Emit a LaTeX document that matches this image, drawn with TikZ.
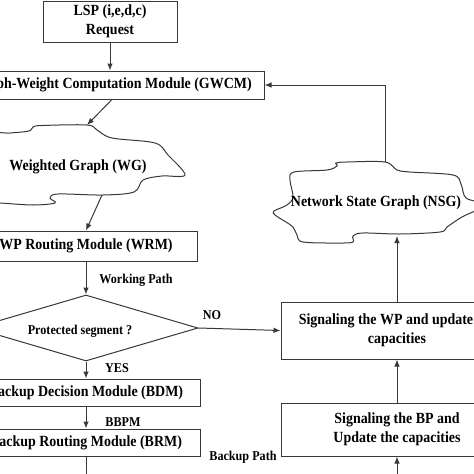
\documentclass[tikz,border=0pt]{standalone}
\usepackage{fontspec}
\setmainfont[FakeStretch=0.9]{Liberation Serif}
\usetikzlibrary{arrows.meta,shapes.geometric}
\definecolor{ln}{gray}{0.22}
\begin{document}
\begin{tikzpicture}[x=1pt,y=-1pt,
  box/.style={draw=ln, line width=1pt, fill=white, align=center, inner sep=0pt,
    font=\bfseries\fontsize{15.5}{18.5}\selectfont},
  lbl/.style={inner sep=0pt, font=\bfseries\fontsize{13.5}{16}\selectfont},
  cloudtxt/.style={inner sep=0pt, font=\bfseries\fontsize{15.5}{18.5}\selectfont},
  arr/.style={draw=ln, line width=1pt, -{Latex[length=7pt,width=5.5pt]}},
  plain/.style={draw=ln, line width=1pt},
  cloudline/.style={draw=ln, line width=1pt, fill=white}]
\useasboundingbox (0,0) rectangle (474,474);
\clip (0,0) rectangle (474,474);

% boxes
\node[box, minimum width=134pt, minimum height=41pt] (lsp) at (110,21.5) {LSP (i,e,d,c)\\Request};
\node[box, minimum width=304pt, minimum height=28pt] (gwcm) at (112,85) {Graph-Weight Computation Module (GWCM)};
\node[box, minimum width=222pt, minimum height=30pt] (wrm) at (86,246) {WP Routing Module (WRM)};
\node[draw=ln, line width=1pt, diamond, minimum width=224pt, minimum height=66pt, inner sep=0pt] (dia) at (86,328) {};
\node[lbl] (dtext) at (80,331) {Protected segment ?};
\node[box, minimum width=228pt, minimum height=27pt] (bdm) at (86,392.5) {Backup Decision Module (BDM)};
\node[box, minimum width=228pt, minimum height=27pt] (brm) at (86,442.5) {Backup Routing Module (BRM)};
\node[box, minimum width=232pt, minimum height=57pt] (wp) at (397,330.5) {Signaling the WP and update\phantom{ the}\\capacities};
\node[box, minimum width=232pt, minimum height=53pt] (bp) at (397,429.5) {Signaling the BP and\\Update the capacities};

% clouds
\draw[cloudline] plot[smooth cycle, tension=0.55] coordinates {
  (-40,168) (-20,135) (10,133) (29,131) (33,127) (42,125.5) (87,125) (97,130)
  (112,138) (155,143) (168,155) (185,175) (162,176) (143,180) (134,192)
  (103,195) (58,194) (50,198) (55,203) (33,205) (0,203) (-20,202)};
\node[cloudtxt] (wg) at (78,167) {Weighted Graph (WG)};

\draw[cloudline] plot[smooth cycle, tension=0.55] coordinates {
  (290,180) (294,172) (327,170) (337,166) (336,163) (347,162) (385,162)
  (397,170) (410,172) (453,175) (461,184) (466,198) (485,205) (462,217)
  (447,227) (440,232) (400,234) (363,233) (353,236) (353,242) (340,243)
  (303,242) (297,235) (293,227) (286,222) (275,215) (274,211) (287,205)
  (293,197)};
\node[cloudtxt] (nsg) at (376,203) {Network State Graph (NSG)};

\coordinate (wgtop) at (87,125);
\coordinate (wgbot) at (102,195);
\coordinate (nsgtop) at (385,162);
\coordinate (nsgbot) at (397,236);
\coordinate (brmend) at (86,490);
\coordinate (bpstart) at (397,490);

% connectors
\draw[arr] (lsp.south) -- (lsp.south |- gwcm.north);
\draw[arr] (gwcm.south) -- (wgtop);
\draw[arr] (wgbot) -- (wrm.north);
\draw[arr] (wrm.south) -- (dia.north);
\draw[arr] (dia.east) -- (wp.west);
\draw[arr] (dia.south) -- (bdm.north);
\draw[arr] (bdm.south) -- (brm.north);
\draw[plain] (brm.south) -- (brmend);
\draw[arr] (bpstart) -- (bp.south);
\draw[arr] (bp.north) -- (wp.south);
\draw[arr] (wp.north) -- (nsgbot);
\draw[arr] (nsgtop) |- (gwcm.east);

% labels
\node[lbl] (lwp) at (136,280) {Working Path};
\node[lbl] (lno) at (212,315) {NO};
\node[lbl] (lyes) at (117,368) {YES};
\node[lbl] (lbbpm) at (123,422) {BBPM};
\node[lbl] (lbp) at (243,457) {Backup Path};
\end{tikzpicture}
\end{document}
